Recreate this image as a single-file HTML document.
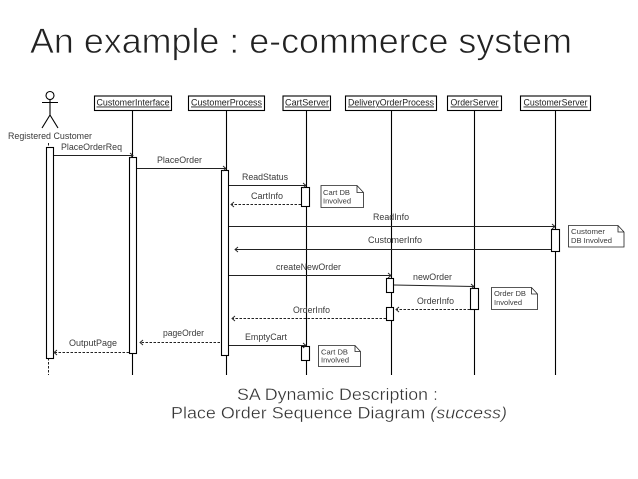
<!DOCTYPE html>
<html>
<head>
<meta charset="utf-8">
<style>
html,body{margin:0;padding:0;background:#fff;width:638px;height:479px;overflow:hidden}
svg{display:block}
.t{font-family:"Liberation Sans",sans-serif;font-size:9px;fill:#3a3a3a}
.n{font-family:"Liberation Sans",sans-serif;font-size:7.5px;fill:#3a3a3a}
.u{font-family:"Liberation Sans",sans-serif;font-size:9px;fill:#222;text-decoration:underline}
.box{fill:#fff;stroke:#000;stroke-width:1.1}
.l{stroke:#000;stroke-width:1.1;fill:none}
.d{stroke:#222;stroke-width:1;fill:none;stroke-dasharray:2.5 1.5}
.a{stroke:#222;stroke-width:.9;fill:none}
.note{fill:#fff;stroke:#222;stroke-width:.8}
.big{font-family:"Liberation Sans",sans-serif;fill:#444}
</style>
</head>
<body>
<svg width="638" height="479" viewBox="0 0 638 479" xmlns="http://www.w3.org/2000/svg">
<text class="big" x="30" y="53" font-size="35" textLength="542" lengthAdjust="spacingAndGlyphs" style="fill:#222;stroke:#fff;stroke-width:.7">An example : e-commerce system</text>

<!-- lifelines -->
<path class="l" d="M132.5 110V375M226.5 110V375M306.5 110V375M391.5 110V375M474.5 110V375M555.5 110V375"/>
<path class="d" d="M48.5 358V375M48.5 143V148"/>

<!-- actor -->
<circle class="l" cx="50" cy="95.5" r="4"/>
<path class="l" d="M42 102.5H58M50 99.5V115L42 128M50 115L58 128"/>
<text class="t" x="8" y="139" textLength="84" lengthAdjust="spacingAndGlyphs">Registered Customer</text>

<!-- header boxes -->
<rect class="box" x="94.5" y="96" width="77" height="14.5"/>
<rect class="box" x="188.5" y="96" width="76" height="14.5"/>
<rect class="box" x="283" y="96" width="47.5" height="14.5"/>
<rect class="box" x="345.5" y="96" width="91" height="14.5"/>
<rect class="box" x="447.5" y="96" width="54" height="14.5"/>
<rect class="box" x="520.5" y="96" width="70" height="14.5"/>
<text class="u" x="96.5" y="105.5" textLength="73" lengthAdjust="spacingAndGlyphs">CustomerInterface</text>
<text class="u" x="191" y="105.5" textLength="71" lengthAdjust="spacingAndGlyphs">CustomerProcess</text>
<text class="u" x="285" y="105.5" textLength="44" lengthAdjust="spacingAndGlyphs">CartServer</text>
<text class="u" x="348" y="105.5" textLength="86" lengthAdjust="spacingAndGlyphs">DeliveryOrderProcess</text>
<text class="u" x="450.5" y="105.5" textLength="48" lengthAdjust="spacingAndGlyphs">OrderServer</text>
<text class="u" x="523.5" y="105.5" textLength="64" lengthAdjust="spacingAndGlyphs">CustomerServer</text>

<!-- activations -->
<rect class="box" x="46.5" y="147.5" width="7" height="211"/>
<rect class="box" x="129.5" y="157.5" width="7" height="196"/>
<rect class="box" x="221.5" y="170.5" width="7" height="185"/>
<rect class="box" x="301.5" y="187.5" width="8" height="19"/>
<rect class="box" x="301.5" y="346.5" width="8" height="14"/>
<rect class="box" x="551.5" y="229.5" width="8" height="22"/>
<rect class="box" x="386.5" y="278.5" width="7" height="14"/>
<rect class="box" x="386.5" y="307.5" width="7" height="13"/>
<rect class="box" x="470.5" y="288.5" width="8" height="21"/>

<!-- messages -->
<path class="a" d="M54 155.5H133M130 153L133 155.5L130 158"/>
<path class="a" d="M137 168.5H226M223 166L226 168.5L223 171"/>
<path class="a" d="M229 185.5H306M303 183L306 185.5L303 188"/>
<path class="a" d="M229 226.5H555M552 224L555 226.5L552 229"/>
<path class="a" d="M551 249.5H235M238 247L235 249.5L238 252"/>
<path class="a" d="M229 275.5H391M388 273L391 275.5L388 278"/>
<path class="a" d="M394 285L474 286.5M471 284L474 286.5L471 289"/>
<path class="a" d="M229 345.5H306M303 343L306 345.5L303 348"/>
<path class="d" d="M301 204.5H232"/><path class="a" d="M234 202L231 204.5L234 207"/>
<path class="d" d="M470 309.5H397"/><path class="a" d="M399 307L396 309.5L399 312"/>
<path class="d" d="M386 318.5H233"/><path class="a" d="M235 316L232 318.5L235 321"/>
<path class="d" d="M220 342.5H141"/><path class="a" d="M143 340L140 342.5L143 345"/>
<path class="d" d="M129 352.5H55"/><path class="a" d="M57 350L54 352.5L57 355"/>

<!-- labels -->
<text class="t" x="61" y="150" textLength="61" lengthAdjust="spacingAndGlyphs">PlaceOrderReq</text>
<text class="t" x="157" y="163" textLength="45" lengthAdjust="spacingAndGlyphs">PlaceOrder</text>
<text class="t" x="242" y="180" textLength="46" lengthAdjust="spacingAndGlyphs">ReadStatus</text>
<text class="t" x="251" y="199" textLength="32" lengthAdjust="spacingAndGlyphs">CartInfo</text>
<text class="t" x="373" y="220" textLength="36" lengthAdjust="spacingAndGlyphs">ReadInfo</text>
<text class="t" x="368" y="243" textLength="54" lengthAdjust="spacingAndGlyphs">CustomerInfo</text>
<text class="t" x="276" y="270" textLength="65" lengthAdjust="spacingAndGlyphs">createNewOrder</text>
<text class="t" x="413" y="280" textLength="39" lengthAdjust="spacingAndGlyphs">newOrder</text>
<text class="t" x="417" y="304" textLength="37" lengthAdjust="spacingAndGlyphs">OrderInfo</text>
<text class="t" x="293" y="313" textLength="37" lengthAdjust="spacingAndGlyphs">OrderInfo</text>
<text class="t" x="163" y="336" textLength="41" lengthAdjust="spacingAndGlyphs">pageOrder</text>
<text class="t" x="69" y="346" textLength="48" lengthAdjust="spacingAndGlyphs">OutputPage</text>
<text class="t" x="245" y="340" textLength="42" lengthAdjust="spacingAndGlyphs">EmptyCart</text>

<!-- notes -->
<path class="note" d="M321 185.5H357L363.5 192.5V207.5H321ZM357 185.5V192.5H363.5"/>
<text class="n" x="323" y="195" textLength="27" lengthAdjust="spacingAndGlyphs">Cart DB</text>
<text class="n" x="323" y="203.500" textLength="28" lengthAdjust="spacingAndGlyphs">Involved</text>

<path class="note" d="M568.500 225.500H618L624 232V247H568.500ZM618 225.500V232H624"/>
<text class="n" x="571" y="234" textLength="34" lengthAdjust="spacingAndGlyphs">Customer</text>
<text class="n" x="571" y="243" textLength="41" lengthAdjust="spacingAndGlyphs">DB Involved</text>

<path class="note" d="M491.500 287.500H531.500L537.500 294V309.500H491.500ZM531.500 287.500V294H537.500"/>
<text class="n" x="494" y="296" textLength="32" lengthAdjust="spacingAndGlyphs">Order DB</text>
<text class="n" x="494" y="305" textLength="28" lengthAdjust="spacingAndGlyphs">Involved</text>

<path class="note" d="M318.500 345.500H355L360.500 351.500V366.500H318.500ZM355 345.500V351.500H360.500"/>
<text class="n" x="321" y="354.500" textLength="27" lengthAdjust="spacingAndGlyphs">Cart DB</text>
<text class="n" x="321" y="362.500" textLength="28" lengthAdjust="spacingAndGlyphs">Involved</text>

<!-- caption -->
<text class="big" x="237" y="400" font-size="17" textLength="201" lengthAdjust="spacingAndGlyphs" style="fill:#333;stroke:#fff;stroke-width:.3">SA Dynamic Description :</text>
<text class="big" x="171" y="418.500" font-size="17" textLength="336" lengthAdjust="spacingAndGlyphs" style="fill:#333;stroke:#fff;stroke-width:.3">Place Order Sequence Diagram <tspan font-style="italic">(success)</tspan></text>
</svg>
</body>
</html>
